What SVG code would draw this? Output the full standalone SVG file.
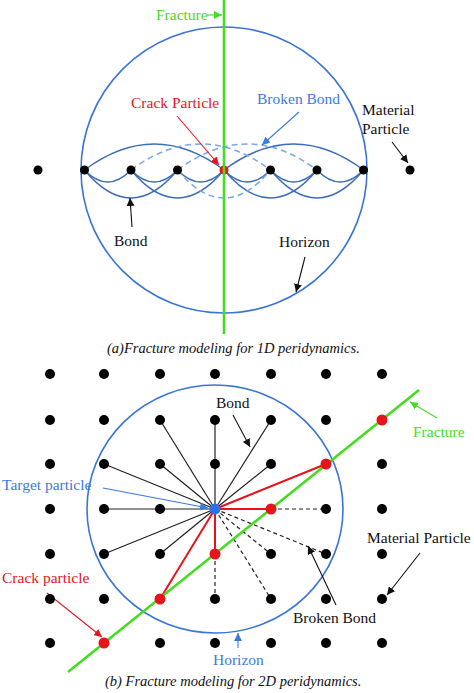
<svg xmlns="http://www.w3.org/2000/svg" width="474" height="693" viewBox="0 0 474 693">
<defs>
<style>
text{font-family:"Liberation Serif","Times New Roman",serif;font-size:15.5px}
.cap{font-style:italic;font-size:14.5px;fill:#111}
.bk{fill:#111}.rd{fill:#E8141C}.bl{fill:#3A7BDF}.gn{fill:#44DD22}
.bond{fill:none;stroke:#3E6DB8;stroke-width:1.5}
.brk{fill:none;stroke:#78A8E8;stroke-width:1.5;stroke-dasharray:6 4}
.hz{fill:none;stroke:#3A74D8;stroke-width:1.6}
.frac{stroke:#44DD22;stroke-width:2.6}
.dot{fill:#000}
.rdot{fill:#E8141C}
.b2{stroke:#222;stroke-width:1.2}
.r2{stroke:#E8141C;stroke-width:2}
.d2{stroke:#222;stroke-width:1.2;stroke-dasharray:4 3}
.ak{stroke:#111;stroke-width:1.1;fill:none}
.ar{stroke:#E8141C;stroke-width:1.1;fill:none}
.ab{stroke:#3A7BDF;stroke-width:1.1;fill:none}
.ag{stroke:#44DD22;stroke-width:1.1;fill:none}
</style>
<marker id="mk" viewBox="0 0 10 10" refX="10" refY="5" markerWidth="8" markerHeight="8" markerUnits="userSpaceOnUse" orient="auto"><path d="M0,0 L10,5 L0,10 z" fill="#111"/></marker>
<marker id="mr" viewBox="0 0 10 10" refX="10" refY="5" markerWidth="8" markerHeight="8" markerUnits="userSpaceOnUse" orient="auto"><path d="M0,0 L10,5 L0,10 z" fill="#E8141C"/></marker>
<marker id="mb" viewBox="0 0 10 10" refX="10" refY="5" markerWidth="8" markerHeight="8" markerUnits="userSpaceOnUse" orient="auto"><path d="M0,0 L10,5 L0,10 z" fill="#3A7BDF"/></marker>
<marker id="mg" viewBox="0 0 10 10" refX="10" refY="5" markerWidth="8" markerHeight="8" markerUnits="userSpaceOnUse" orient="auto"><path d="M0,0 L10,5 L0,10 z" fill="#44DD22"/></marker>
</defs>

<!-- ===== (a) 1D ===== -->
<g id="horizon1d"><circle class="hz" cx="224" cy="170" r="143"/></g>

<g id="connectors1d">
<!-- adjacent bonds below -->
<path class="bond" d="M84.5,170 Q107.75,194 131,170"/>
<path class="bond" d="M131,170 Q154.25,194 177.5,170"/>
<path class="bond" d="M177.5,170 Q200.75,194 224,170"/>
<path class="bond" d="M224,170 Q247.25,194 270.5,170"/>
<path class="bond" d="M270.5,170 Q293.75,194 317,170"/>
<path class="bond" d="M317,170 Q340.25,194 363.5,170"/>
<!-- distance-2 bonds below -->
<path class="bond" d="M84.5,170 Q131,226 177.5,170"/>
<path class="bond" d="M131,170 Q177.5,226 224,170"/>
<path class="bond" d="M224,170 Q270.5,226 317,170"/>
<path class="bond" d="M270.5,170 Q317,226 363.5,170"/>
<!-- distance-3 bonds above -->
<path class="bond" d="M84.5,170 Q154.25,118 224,170"/>
<path class="bond" d="M224,170 Q293.75,118 363.5,170"/>
<!-- broken bonds -->
<path class="brk" d="M131,170 Q200.75,118 270.5,170"/>
<path class="brk" d="M177.5,170 Q247.25,118 317,170"/>
<path class="brk" d="M177.5,170 Q224,226 270.5,170"/>
<!-- label arrows -->
<line class="ag" x1="207" y1="15" x2="222" y2="15" marker-end="url(#mg)"/>
<line class="ar" x1="177" y1="116" x2="219" y2="165" marker-end="url(#mr)"/>
<line class="ab" x1="299" y1="112" x2="262" y2="145" marker-end="url(#mb)"/>
<line class="ak" x1="392" y1="142" x2="408" y2="163" marker-end="url(#mk)"/>
<line class="ak" x1="132" y1="227" x2="130" y2="198" marker-end="url(#mk)"/>
<line class="ak" x1="305" y1="257" x2="296" y2="292" marker-end="url(#mk)"/>
</g>

<g id="particles1d">
<circle class="dot" cx="38" cy="170" r="4.5"/>
<circle class="dot" cx="84.5" cy="170" r="4.5"/>
<circle class="dot" cx="131" cy="170" r="4.5"/>
<circle class="dot" cx="177.5" cy="170" r="4.5"/>
<circle class="rdot" cx="224" cy="170" r="4.5"/>
<circle class="dot" cx="270.5" cy="170" r="4.5"/>
<circle class="dot" cx="317" cy="170" r="4.5"/>
<circle class="dot" cx="363.5" cy="170" r="4.5"/>
<circle class="dot" cx="410" cy="170" r="4.5"/>
</g>

<g id="fracture1d"><line class="frac" x1="224" y1="0" x2="224" y2="334"/></g>

<g id="labels1d">
<text class="gn" x="156" y="20">Fracture</text>
<text class="rd" x="131" y="108">Crack Particle</text>
<text class="bl" x="257" y="104">Broken Bond</text>
<text class="bk" x="362" y="115">Material</text>
<text class="bk" x="362" y="134">Particle</text>
<text class="bk" x="114" y="246">Bond</text>
<text class="bk" x="279" y="247">Horizon</text>
<text class="cap" x="107" y="353">(a)Fracture modeling for 1D peridynamics.</text>
</g>

<!-- ===== (b) 2D ===== -->
<g id="horizon2d"><ellipse class="hz" cx="215" cy="509" rx="128" ry="124"/></g>

<g id="connectors2d">
<line class="b2" x1="215" y1="509" x2="160" y2="420"/>
<line class="b2" x1="215" y1="509" x2="215" y2="420"/>
<line class="b2" x1="215" y1="509" x2="271" y2="420"/>
<line class="b2" x1="215" y1="509" x2="104" y2="464"/>
<line class="b2" x1="215" y1="509" x2="160" y2="464"/>
<line class="b2" x1="215" y1="509" x2="271" y2="464"/>
<line class="b2" x1="215" y1="509" x2="104" y2="509"/>
<line class="b2" x1="215" y1="509" x2="104" y2="554"/>
<line class="b2" x1="215" y1="509" x2="160" y2="554"/>
<line class="d2" x1="271" y1="509" x2="326" y2="509"/>
<line class="d2" x1="215" y1="554" x2="215" y2="599"/>
<line class="d2" x1="215" y1="509" x2="271" y2="554"/>
<line class="d2" x1="215" y1="509" x2="326" y2="554"/>
<line class="d2" x1="215" y1="509" x2="271" y2="599"/>
<line class="r2" x1="215" y1="509" x2="326" y2="464"/>
<line class="r2" x1="215" y1="509" x2="271" y2="509"/>
<line class="r2" x1="215" y1="509" x2="215" y2="554"/>
<line class="r2" x1="215" y1="509" x2="160" y2="599"/>
<!-- label arrows -->
<line class="ak" x1="233" y1="415" x2="250" y2="447" marker-end="url(#mk)"/>
<line class="ag" x1="437" y1="418" x2="410" y2="402" marker-end="url(#mg)"/>
<line class="ab" x1="103" y1="488" x2="208" y2="508" marker-end="url(#mb)"/>
<line class="ak" x1="420" y1="553" x2="387" y2="595" marker-end="url(#mk)"/>
<line class="ar" x1="47" y1="593" x2="102" y2="637" marker-end="url(#mr)"/>
<line class="ak" x1="336" y1="605" x2="308" y2="546" marker-end="url(#mk)"/>
<line class="ab" x1="238" y1="648" x2="238" y2="633" marker-end="url(#mb)"/>
</g>

<g id="fracture2d"><line class="frac" x1="68" y1="672" x2="419" y2="390"/></g>

<g id="particles2d">
<g class="dot">
<circle cx="50" cy="374" r="5"/><circle cx="104" cy="374" r="5"/><circle cx="160" cy="374" r="5"/><circle cx="215" cy="374" r="5"/><circle cx="271" cy="374" r="5"/><circle cx="326" cy="374" r="5"/><circle cx="382" cy="374" r="5"/>
<circle cx="50" cy="420" r="5"/><circle cx="104" cy="420" r="5"/><circle cx="160" cy="420" r="5"/><circle cx="215" cy="420" r="5"/><circle cx="271" cy="420" r="5"/><circle cx="326" cy="420" r="5"/>
<circle cx="50" cy="464" r="5"/><circle cx="104" cy="464" r="5"/><circle cx="160" cy="464" r="5"/><circle cx="215" cy="464" r="5"/><circle cx="271" cy="464" r="5"/><circle cx="382" cy="464" r="5"/>
<circle cx="50" cy="509" r="5"/><circle cx="104" cy="509" r="5"/><circle cx="160" cy="509" r="5"/><circle cx="326" cy="509" r="5"/><circle cx="382" cy="509" r="5"/>
<circle cx="50" cy="554" r="5"/><circle cx="104" cy="554" r="5"/><circle cx="160" cy="554" r="5"/><circle cx="271" cy="554" r="5"/><circle cx="326" cy="554" r="5"/><circle cx="382" cy="554" r="5"/>
<circle cx="50" cy="599" r="5"/><circle cx="104" cy="599" r="5"/><circle cx="215" cy="599" r="5"/><circle cx="271" cy="599" r="5"/><circle cx="326" cy="599" r="5"/><circle cx="382" cy="599" r="5"/>
<circle cx="50" cy="643" r="5"/><circle cx="160" cy="643" r="5"/><circle cx="215" cy="643" r="5"/><circle cx="271" cy="643" r="5"/><circle cx="326" cy="643" r="5"/><circle cx="382" cy="643" r="5"/>
</g>
<g class="rdot">
<circle cx="382" cy="420" r="5.5"/><circle cx="326" cy="464" r="5.5"/><circle cx="271" cy="509" r="5.5"/><circle cx="215" cy="554" r="5.5"/><circle cx="160" cy="599" r="5.5"/><circle cx="104" cy="643" r="5.5"/>
</g>
<circle id="target" cx="215" cy="509" r="5.5" fill="#2F6FE8"/>
</g>

<g id="labels2d">
<text class="bk" x="216" y="408">Bond</text>
<text class="gn" x="413" y="437">Fracture</text>
<text class="bl" x="2" y="490">Target particle</text>
<text class="bk" x="367" y="543">Material Particle</text>
<text class="rd" x="2" y="583">Crack particle</text>
<text class="bk" x="293" y="623">Broken Bond</text>
<text class="bl" x="213" y="665">Horizon</text>
<text class="cap" x="105" y="686">(b) Fracture modeling for 2D peridynamics.</text>
</g>
</svg>
